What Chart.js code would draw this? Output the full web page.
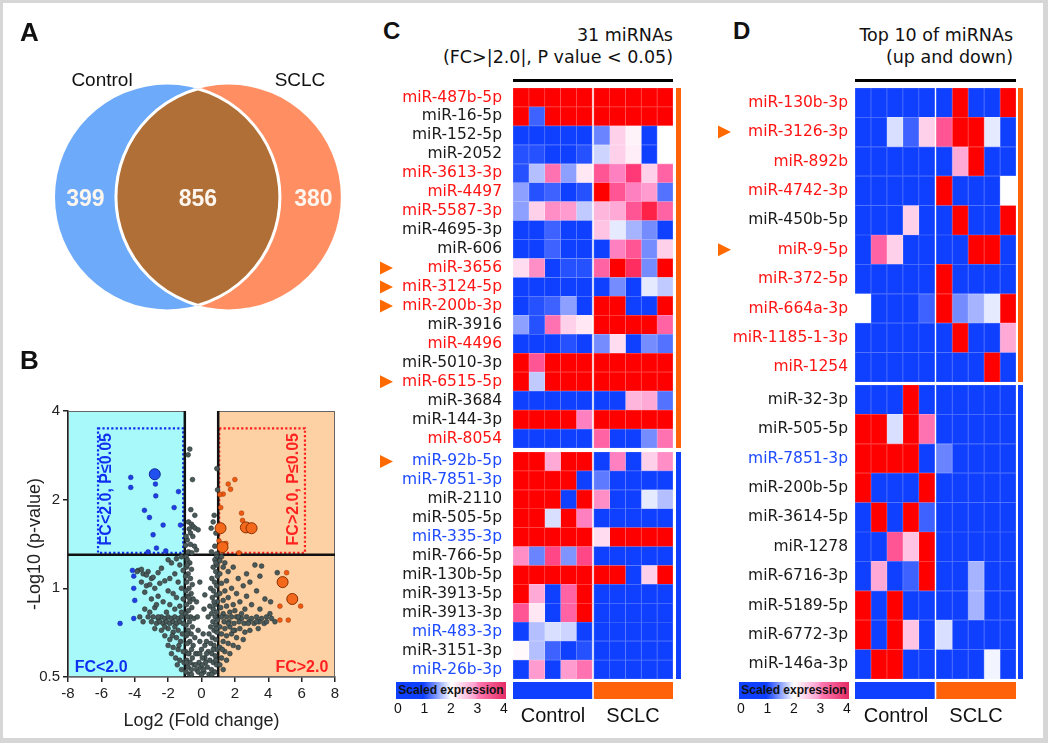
<!DOCTYPE html>
<html>
<head>
<meta charset="utf-8">
<script src="https://cdn.jsdelivr.net/npm/chart.js@4.4.0/dist/chart.umd.min.js"></script>
<style>
  html, body { margin: 0; padding: 0; background: #fff; }
  #page { position: relative; width: 1048px; height: 743px; overflow: hidden; font-family: 'Liberation Sans', Arial, sans-serif; color: #111; }
  #frame { position: absolute; left: 0; top: 0; width: 1048px; height: 743px; box-sizing: border-box; border: 3px solid #d6d6d6; border-right-width: 5px; border-bottom-width: 5px; pointer-events: none; }
  canvas { position: absolute; }
  .t { position: absolute; white-space: nowrap; }
  .letter { font-weight: bold; line-height: 1; }
  .ttl { font-family: 'DejaVu Sans', sans-serif; font-size: 17.5px; line-height: 22px; text-align: right; }
  .bar { position: absolute; height: 3px; background: #000; }
  .legend { position: absolute; height: 17px; width: 110px;
    background: linear-gradient(to right, #1040ff 0%, #1040ff 25%, #ffffff 50%, #ffa0d0 72%, #ff78b0 75%, #e42c64 100%);
    font-weight: bold; font-size: 12px; line-height: 17px; text-align: center; color: #111; }
  .lnum { position: absolute; font-size: 14px; width: 20px; text-align: center; line-height: 14px; }
  .grp { position: absolute; font-size: 20px; line-height: 20px; width: 90px; text-align: center; }
</style>
</head>
<body>
<div id="page">
  <canvas id="venn" width="370" height="370" style="left:0;top:0"></canvas>
  <canvas id="volcano" width="350" height="345" style="left:0;top:395px"></canvas>
  <canvas id="cUp" width="320" height="360" style="left:370px;top:88px"></canvas>
  <canvas id="cDown" width="320" height="249" style="left:370px;top:452px"></canvas>
  <canvas id="dUp" width="340" height="294" style="left:700px;top:88px"></canvas>
  <canvas id="dDown" width="340" height="316" style="left:700px;top:385px"></canvas>

  <div class="t letter" style="left:20px;top:19px;font-size:26px">A</div>
  <div class="t letter" style="left:20px;top:347px;font-size:26px">B</div>
  <div class="t letter" style="left:383px;top:19px;font-size:24px">C</div>
  <div class="t letter" style="left:733px;top:19px;font-size:24px">D</div>

  <div class="t" style="left:42px;top:70px;width:120px;text-align:center;font-size:19px;line-height:19px">Control</div>
  <div class="t" style="left:240px;top:70px;width:120px;text-align:center;font-size:19px;line-height:19px">SCLC</div>

  <div class="t ttl" style="right:375px;top:24px">31 miRNAs<br>(FC&gt;|2.0|, P value &lt; 0.05)</div>
  <div class="bar" style="left:513px;top:79px;width:160px"></div>
  <div class="t ttl" style="right:35px;top:24px">Top 10 of miRNAs<br>(up and down)</div>
  <div class="bar" style="left:855px;top:79px;width:161px"></div>

  <div class="legend" style="left:396px;top:682px">Scaled expression</div>
  <div id="cNums"></div>
  <div class="legend" style="left:739px;top:682px">Scaled expression</div>
  <div id="dNums"></div>

  <div class="grp" style="left:508px;top:705px">Control</div>
  <div class="grp" style="left:588px;top:705px">SCLC</div>
  <div class="grp" style="left:851px;top:705px">Control</div>
  <div class="grp" style="left:931px;top:705px">SCLC</div>

  <div id="frame"></div>
</div>
<script>
// ---- data ----
// panel A
const vennCounts = [399, 856, 380]; // control only, shared, SCLC only
const vennColors = ['#6eaafa', '#ff8f63'];
const vennShared = '#b06f36';

// panel B: [log2 fold change, -log10 p]
const grayPts = [
  [-0.7,2.97],[-0.8,2.84],[-0.54,2.34],[0.92,2.55],[0.96,2.16],[-0.64,1.85],[-0.4,1.77],[-0.78,1.68],[-0.6,1.65],[-0.5,1.62],
  [-0.74,1.59],[-0.38,1.6],[-0.2,1.58],[-0.66,1.54],[-0.52,1.5],[-0.85,1.46],[-0.66,1.41],[-0.42,1.39],[-0.3,1.35],[-0.78,1.33],
  [-0.58,1.32],[0.76,1.77],[0.7,1.68],[0.58,1.6],[0.86,1.54],[0.8,1.39],[0.6,1.33],[0.9,1.31],[-0.92,1.5],[-0.95,1.4],
  [-0.92,1.28],[-0.85,1.25],[-0.7,1.22],[-0.9,1.18],[-0.6,1.16],[-0.8,1.12],[-0.95,1.1],[-0.66,1.08],[-0.88,1.05],[-0.55,1.03],
  [-0.75,1.0],[-0.93,0.98],[-0.62,0.96],[-0.82,0.94],[-0.5,0.92],[-0.7,0.9],[-0.9,0.88],[-0.58,0.86],[-0.78,0.84],[-0.95,0.82],
  [-0.65,0.8],[-0.85,0.8],[-0.45,0.79],[-0.72,0.77],[-0.92,0.75],[-0.55,0.74],[-0.8,0.72],[-0.62,0.7],[-0.9,0.69],[-0.4,0.68],
  [-0.7,0.66],[-0.85,0.65],[-0.5,0.64],[-0.6,0.62],[-0.95,0.61],[-0.75,0.6],[-0.35,0.6],[-0.55,0.58],[-0.88,0.57],[-0.68,0.56],
  [-0.45,0.55],[-0.8,0.54],[-0.6,0.53],[-0.92,0.52],[-0.3,0.53],[-0.72,0.51],
  [0.9,1.28],[0.8,1.25],[0.92,1.2],[0.7,1.18],[0.85,1.14],[0.95,1.1],[0.62,1.08],[0.78,1.05],[0.9,1.02],[0.55,1.0],
  [0.72,0.98],[0.88,0.95],[0.65,0.93],[0.95,0.9],[0.8,0.88],[0.5,0.87],[0.7,0.85],[0.9,0.83],[0.6,0.82],[0.82,0.8],
  [0.4,0.8],[0.95,0.78],[0.68,0.77],[0.85,0.75],[0.55,0.74],[0.75,0.72],[0.92,0.71],[0.45,0.7],[0.65,0.68],[0.85,0.67],
  [0.3,0.66],[0.55,0.65],[0.75,0.64],[0.92,0.62],[0.4,0.61],[0.62,0.6],[0.82,0.59],[0.2,0.58],[0.5,0.57],[0.7,0.56],
  [0.9,0.55],[0.35,0.54],[0.6,0.53],[0.8,0.52],[0.15,0.52],[0.45,0.51],
  [-0.2,0.72],[0.1,0.7],[-0.1,0.66],[0.2,0.64],[0,0.62],[-0.25,0.6],[0.05,0.58],[-0.15,0.56],[0.25,0.56],[-0.05,0.54],
  [0.1,0.53],[-0.2,0.52],[0,0.51],[-0.3,0.9],[0.2,0.95],[-0.1,1.05],[0.15,0.85],[-0.25,0.8],
  [-1.2,1.28],[-1.5,1.26],[-1.8,1.22],[-2.0,1.25],[-1.3,1.2],[-1.1,1.15],[-1.6,1.12],[-2.4,1.17],[-3.8,1.15],[-3.5,1.12],
  [-3.2,1.14],[-3.0,1.08],[-3.6,1.05],[-3.3,1.02],[-2.8,1.0],[-2.5,1.04],[-2.2,1.06],[-1.9,1.08],[-1.4,1.05],[-1.2,1.0],
  [-2.0,0.98],[-1.7,0.96],[-2.6,0.94],[-3.0,0.92],[-1.5,0.93],[-1.1,0.92],[-2.3,0.9],[-1.9,0.88],[-1.3,0.87],[-2.8,0.86],
  [-3.4,0.85],[-1.6,0.85],[-2.1,0.83],[-1.2,0.83],[-3.7,0.8],[-3.2,0.8],[-2.9,0.8],[-2.6,0.79],[-2.4,0.8],[-2.2,0.79],
  [-2.0,0.8],[-1.8,0.79],[-1.6,0.8],[-1.4,0.79],[-1.2,0.8],[-3.5,0.77],[-3.0,0.77],[-2.7,0.76],[-2.5,0.77],[-2.3,0.76],
  [-2.1,0.77],[-1.9,0.76],[-1.7,0.77],[-1.5,0.76],[-1.3,0.77],[-1.1,0.76],[-2.8,0.73],[-2.4,0.72],[-2.0,0.73],[-1.7,0.71],
  [-1.4,0.72],[-1.15,0.7],[-2.2,0.69],[-1.9,0.67],[-1.5,0.68],[-1.25,0.66],[-2.0,0.64],[-1.7,0.63],[-1.4,0.62],[-1.1,0.61],
  [-1.8,0.6],[-1.55,0.58],[-1.3,0.57],[-1.05,0.56],[-1.45,0.55],[-1.2,0.53],[-3.86,1.14],[-3.6,1.16],[-3.3,1.11],[-3.1,1.03],
  [-2.9,1.09],[-2.6,1.13],[-3.4,0.97],[-2.7,0.88],[-3.1,0.83],
  [1.2,1.28],[1.1,1.24],[1.4,1.22],[1.3,1.18],[1.9,1.18],[3.2,1.2],[3.6,1.19],[2.7,1.12],[3.5,1.1],[1.6,1.14],
  [1.1,1.12],[2.2,1.08],[1.5,1.06],[1.2,1.04],[2.9,1.05],[2.5,1.02],[1.8,1.0],[1.4,0.98],[3.3,0.98],[2.1,0.96],
  [1.1,0.96],[2.7,0.94],[1.6,0.93],[3.8,0.92],[1.3,0.91],[2.3,0.9],[1.9,0.88],[3.0,0.88],[1.5,0.87],[1.15,0.86],
  [2.6,0.85],[3.5,0.85],[2.0,0.84],[1.7,0.83],[1.3,0.82],[4.1,0.82],[2.4,0.82],[1.2,0.8],[1.5,0.8],[1.8,0.8],
  [2.1,0.8],[2.4,0.79],[2.7,0.8],[3.0,0.79],[3.3,0.8],[3.6,0.79],[3.9,0.8],[4.2,0.79],[1.35,0.77],[1.65,0.77],
  [1.95,0.76],[2.25,0.77],[2.55,0.76],[2.85,0.77],[3.15,0.76],[3.45,0.77],[3.75,0.76],[4.4,0.77],[1.1,0.74],[1.4,0.73],
  [1.7,0.74],[2.0,0.72],[2.3,0.73],[2.6,0.71],[2.9,0.72],[3.4,0.73],[1.2,0.7],[1.5,0.69],[1.8,0.7],[2.1,0.68],
  [2.5,0.67],[1.3,0.66],[1.6,0.65],[1.9,0.64],[2.2,0.63],[1.1,0.63],[1.4,0.61],[1.7,0.6],[1.2,0.58],[1.5,0.57],
  [1.1,0.55],[1.3,0.53],[4.54,1.13],[4.14,0.9],
  [-0.85,1.2],[-0.75,0.93],[-0.88,0.7],[-0.8,0.6],[-0.9,0.56],[-0.6,0.51],[0.86,1.22],[0.75,0.9],[0.88,0.73],[0.7,0.62],
  [0.85,0.57],[0.62,0.51],[-0.1,0.6],[0.3,0.6],[-0.35,0.55],[0.05,0.55],[-1.6,0.74],[-2.2,0.74],[-2.6,0.8],[1.6,0.76],
  [2.2,0.8],[2.8,0.76],[3.3,0.77],[3.9,0.77],[1.9,0.72],[1.25,0.62],[-1.35,0.64],[-1.75,0.69]
];
const bluePts = [
  [-4.24,2.38],[-4.24,2.2],[-2.76,2.26],[-2.74,2.06],[-1.38,2.13],[-3.42,1.84],[-1.64,1.88],[-3.12,1.74],[-2.3,1.64],[-1.26,1.64],
  [-2.9,1.52],[-2.7,1.37],[-2.14,1.34],[-3.2,1.33],[-4.14,1.15],[-4.06,1.1],[-4.06,1.0],[-4.0,0.91],[-4.06,0.79],[-4.88,0.76]
];
const orangePts = [
  [2.0,2.34],[1.6,2.26],[1.74,2.17],[1.3,2.09],[1.1,2.08],[2.4,1.8],[2.46,1.7],[1.46,1.42],[2.24,1.32],[1.05,1.45],
  [1.15,1.88],[5.1,1.13],[5.94,0.87],[4.7,0.87],[4.7,0.78],[5.2,0.78]
];
const blueBig = [[-2.8,2.44]];
const orangeBig = [[1.14,1.6],[2.66,1.61],[3.0,1.6],[1.26,1.38],[4.86,1.05],[5.44,0.92]];
const volcanoXTicks = [-8, -6, -4, -2, 0, 2, 4, 6, 8];
const volcanoYTicks = [0.5, 1, 2, 4];
const fcCut = 1;    // log2(2)
const pCut = 1.3;   // -log10(0.05)

// panel C/D heatmaps, scaled expression 0..4, 5 control + 5 SCLC columns
const scaleTicks = [0, 1, 2, 3, 4];
const cUpNames = ['miR-487b-5p','miR-16-5p','miR-152-5p','miR-2052','miR-3613-3p','miR-4497','miR-5587-3p','miR-4695-3p','miR-606','miR-3656','miR-3124-5p','miR-200b-3p','miR-3916','miR-4496','miR-5010-3p','miR-6515-5p','miR-3684','miR-144-3p','miR-8054'];
const cUpTone = ['r','k','k','k','r','r','r','k','k','r','r','r','k','r','k','r','k','k','r'];
const cUpValues = [
  [4,4,4,4,4, 4,4,4,4,4],
  [4,1.2,4,4,4, 4,4,4,4,4],
  [0.5,0.5,0.5,0.5,0.5, 1.4,2.4,2.1,0.5,2.0],
  [1.1,1.1,0.5,0.5,1.1, 1.8,2.4,2.15,0.5,2.0],
  [1.1,1.7,3.1,1.55,2.2, 3.3,3.0,3.5,2.4,3.2],
  [1.55,1.1,1.2,0.5,1.1, 4,3.3,3.0,2.8,1.3],
  [1.55,2.4,2.9,2.8,1.75, 2.6,2.7,3.3,3.7,3.2],
  [0.5,0.5,1.2,0.5,0.5, 2.5,1.9,1.65,1.45,0.5],
  [0.5,0.5,1.2,0.5,0.5, 0.5,3.0,3.3,1.45,2.4],
  [2.3,2.9,0.5,1.1,1.1, 3.2,4,3.6,1.45,4],
  [0.5,0.5,0.5,0.5,0.5, 0.5,1.45,0.5,1.9,1.75],
  [0.5,1.1,1.2,1.55,0.5, 4,4,0.5,0.5,4],
  [1.55,1.1,3.1,2.4,2.2, 4,4,4,4,3.2],
  [0.5,0.5,0.5,1.1,0.5, 1.45,2.3,0.5,1.45,1.3],
  [4,3.3,4,4,4, 4,4,4,4,4],
  [4,1.75,4,4,4, 4,4,4,4,4],
  [0.5,0.5,0.5,0.5,0.5, 0.5,0.5,2.6,2.7,1.3],
  [4,4,4,4,3.0, 4,4,4,4,4],
  [0.5,0.5,0.5,0.5,0.5, 3.2,0.5,0.5,1.45,3.1]
];
const cDownNames = ['miR-92b-5p','miR-7851-3p','miR-2110','miR-505-5p','miR-335-3p','miR-766-5p','miR-130b-5p','miR-3913-5p','miR-3913-3p','miR-483-3p','miR-3151-3p','miR-26b-3p'];
const cDownTone = ['b','b','k','k','b','k','k','k','k','b','k','b'];
const cDownValues = [
  [4,4,2.7,4,4, 0.5,3.0,0.5,2.4,2.9],
  [4,4,4,4,0.5, 1.35,0.5,0.5,0.5,0.5],
  [4,4,4,0.5,4, 2.9,0.5,0.5,1.9,1.7],
  [4,4,1.85,4,3.0, 0.5,0.5,0.5,0.5,0.5],
  [4,4,4,4,4, 2.3,4,4,4,4],
  [2.9,1.4,3.4,1.5,3.4, 0.5,0.5,0.5,0.5,0.5],
  [4,4,4,4,4, 4,4,0.5,2.4,4],
  [4,2.7,0.5,3.2,4, 0.5,0.5,0.5,0.5,0.5],
  [3.3,2.2,0.5,3.2,4, 0.5,0.5,0.5,0.5,0.5],
  [0.5,1.7,1.85,1.8,0.5, 0.5,0.5,0.5,0.5,0.5],
  [2.05,1.7,1.2,0.5,1.1, 0.5,0.5,0.5,0.5,0.5],
  [0.5,2.8,0.5,2.8,3.1, 0.5,0.5,0.5,0.5,0.5]
];
const cMarked = ['miR-3656','miR-3124-5p','miR-200b-3p','miR-6515-5p','miR-92b-5p'];

const dUpNames = ['miR-130b-3p','miR-3126-3p','miR-892b','miR-4742-3p','miR-450b-5p','miR-9-5p','miR-372-5p','miR-664a-3p','miR-1185-1-3p','miR-1254'];
const dUpTone = ['r','r','r','r','k','r','r','r','r','r'];
const dUpValues = [
  [0.5,0.5,0.5,0.5,0.5, 0.5,4,0.5,0.5,4],
  [0.5,0.5,1.85,1.2,2.4, 3.3,4,4,1.9,0.5],
  [0.5,0.5,0.5,0.5,0.5, 0.5,2.7,4,0.5,0.5],
  [0.5,0.5,0.5,0.5,0.5, 4,0.5,0.5,0.5,2.0],
  [0.5,0.5,0.5,2.4,0.5, 0.5,4,0.5,0.5,4],
  [0.5,3.2,2.4,0.5,0.5, 0.5,0.5,4,4,0.5],
  [0.5,0.5,0.5,0.5,0.5, 4,0.5,0.5,0.5,0.5],
  [2.0,0.5,0.5,0.5,1.2, 4,1.45,1.65,1.9,4],
  [0.5,0.5,0.5,0.5,0.5, 0.5,4,0.5,0.5,2.7],
  [0.5,0.5,0.5,0.5,0.5, 0.5,0.5,0.5,4,0.5]
];
const dDownNames = ['miR-32-3p','miR-505-5p','miR-7851-3p','miR-200b-5p','miR-3614-5p','miR-1278','miR-6716-3p','miR-5189-5p','miR-6772-3p','miR-146a-3p'];
const dDownTone = ['k','k','b','k','k','k','k','k','k','k'];
const dDownValues = [
  [0.5,0.5,0.5,4,0.5, 0.5,0.5,0.5,0.5,0.5],
  [4,4,1.85,4,3.1, 0.5,0.5,0.5,0.5,0.5],
  [4,4,4,4,0.5, 1.4,0.5,0.5,0.5,0.5],
  [4,0.5,0.5,0.5,4, 0.5,0.5,0.5,0.5,0.5],
  [0.5,4,0.5,4,1.2, 0.5,0.5,0.5,0.5,0.5],
  [0.5,0.5,3.3,2.5,4, 0.5,0.5,0.5,0.5,0.5],
  [0.5,2.7,0.5,1.2,4, 0.5,0.5,1.65,0.5,0.5],
  [4,0.5,4,0.5,0.5, 0.5,0.5,1.65,0.5,0.5],
  [4,0.5,4,2.5,0.5, 1.85,0.5,0.5,0.5,0.5],
  [0.5,4,4,0.5,0.5, 0.5,0.5,0.5,1.95,0.5]
];
const dMarked = ['miR-3126-3p','miR-9-5p'];

// ---- styles / helpers ----
const family = "'Liberation Sans', Arial, sans-serif";
const labelFamily = "'DejaVu Sans', sans-serif";
const toneColor = { r: '#ff1414', k: '#1a1a1a', b: '#1f4bff' };
const groupBlue = '#1040ff', groupOrange = '#ff6208', markColor = '#ff6a00';
const controlN = 5, colGap = 0.1;
const colorStops = [
  [0, [16,64,255]], [1, [16,64,255]], [1.5, [128,148,255]], [2, [255,255,255]],
  [2.5, [255,196,228]], [3, [255,128,192]], [3.5, [255,56,120]], [4, [255,0,0]]
];

function mix(a, b, t) { return a.map((v, i) => Math.round(v + (b[i] - v) * t)); }
function valueColor(v) {
  for (let i = 1; i < colorStops.length; i++) {
    const [v1, c1] = colorStops[i];
    if (v <= v1) {
      const [v0, c0] = colorStops[i - 1];
      return mix(c0, c1, (v - v0) / (v1 - v0));
    }
  }
  return colorStops[colorStops.length - 1][1];
}
const rgb = c => `rgb(${c[0]},${c[1]},${c[2]})`;

// legend numbers under the colour keys
function legendNums(id, left) {
  const box = document.getElementById(id);
  scaleTicks.forEach(v => {
    const d = document.createElement('div');
    d.className = 'lnum';
    d.style.left = (left + v * 26.5 - 8) + 'px';
    d.style.top = '701px';
    d.textContent = v;
    box.appendChild(d);
  });
}
legendNums('cNums', 396);
legendNums('dNums', 739);

// ---- panel A: venn ----
const vennOffset = 0.271;  // circle centres, in radius units

const vennPlugin = {
  id: 'vennShared',
  afterDatasetsDraw(chart) {
    const { ctx, scales: { x } } = chart;
    const a = chart.getDatasetMeta(0).data[0];
    const b = chart.getDatasetMeta(1).data[0];
    const r = Math.abs(x.getPixelForValue(1) - x.getPixelForValue(0));
    ctx.save();
    ctx.beginPath(); ctx.arc(a.x, a.y, r, 0, Math.PI * 2); ctx.clip();
    ctx.beginPath(); ctx.arc(b.x, b.y, r, 0, Math.PI * 2);
    ctx.fillStyle = vennShared; ctx.fill();
    ctx.strokeStyle = '#fff'; ctx.lineWidth = 3; ctx.stroke();
    ctx.restore();
    ctx.save();
    ctx.beginPath(); ctx.arc(b.x, b.y, r, 0, Math.PI * 2); ctx.clip();
    ctx.beginPath(); ctx.arc(a.x, a.y, r, 0, Math.PI * 2);
    ctx.strokeStyle = '#fff'; ctx.lineWidth = 3; ctx.stroke();
    ctx.restore();

    const xs = [(a.x + b.x) / 2 - r, (a.x + b.x) / 2, (a.x + b.x) / 2 + r];
    ctx.save();
    ctx.fillStyle = '#fdf6ee';
    ctx.font = 'bold 23px ' + family;
    ctx.textAlign = 'center'; ctx.textBaseline = 'middle';
    vennCounts.forEach((c, i) => ctx.fillText(String(c), xs[i] + (i === 2 ? 3 : 0), a.y + 3));
    ctx.restore();
  }
};

const venn = new Chart(document.getElementById('venn'), {
  type: 'bubble',
  data: {
    datasets: [
      { data: [{ x: -vennOffset, y: 0 }], backgroundColor: vennColors[0], borderWidth: 0, clip: false },
      { data: [{ x: vennOffset, y: 0 }], backgroundColor: vennColors[1], borderWidth: 0, clip: false }
    ]
  },
  options: {
    responsive: false, animation: false, events: [],
    layout: { padding: 0, autoPadding: false },
    plugins: { legend: { display: false }, tooltip: { enabled: false } },
    scales: {
      x: { type: 'linear', display: false, min: -1.76, max: 1.53 },
      y: { type: 'linear', display: false, min: -1.538, max: 1.751 }
    }
  },
  plugins: [vennPlugin]
});
// circles are one unit in radius: convert through the x scale, then redraw
const unitPx = Math.abs(venn.scales.x.getPixelForValue(1) - venn.scales.x.getPixelForValue(0));
venn.data.datasets.forEach(d => { d.data[0].r = unitPx; });
venn.update();

// ---- panel B: volcano ----
const volcanoDeco = {
  id: 'volcanoDeco',
  beforeDatasetsDraw(chart) {
    const { ctx, chartArea: a, scales: { x, y } } = chart;
    const xl = x.getPixelForValue(-fcCut), xr = x.getPixelForValue(fcCut), yc = y.getPixelForValue(pCut);
    const h = a.bottom - a.top;
    ctx.save();
    ctx.fillStyle = '#a8f9f9'; ctx.fillRect(a.left, a.top, xl - a.left, h);
    ctx.fillStyle = '#fdd1a3'; ctx.fillRect(xr, a.top, a.right - xr, h);
    ctx.strokeStyle = '#666'; ctx.lineWidth = 1;
    ctx.strokeRect(a.left + 0.5, a.top + 0.5, xl - a.left, h - 1);
    ctx.strokeRect(xr, a.top + 0.5, a.right - xr - 0.5, h - 1);

    const boxTop = y.getPixelForValue(3.49), boxBot = y.getPixelForValue(1.32);
    ctx.setLineDash([2.2, 2.2]); ctx.lineWidth = 2.2;
    ctx.strokeStyle = '#1030f0';
    ctx.strokeRect(x.getPixelForValue(-6.2), boxTop, x.getPixelForValue(-1.1) - x.getPixelForValue(-6.2), boxBot - boxTop);
    ctx.strokeStyle = '#ff2020';
    ctx.strokeRect(x.getPixelForValue(1.06), boxTop, x.getPixelForValue(6.2) - x.getPixelForValue(1.06), boxBot - boxTop);
    ctx.setLineDash([]);

    ctx.strokeStyle = '#111'; ctx.lineWidth = 2.5;
    ctx.beginPath();
    ctx.moveTo(xl, a.top); ctx.lineTo(xl, a.bottom);
    ctx.moveTo(xr, a.top); ctx.lineTo(xr, a.bottom);
    ctx.moveTo(a.left, yc); ctx.lineTo(a.right, yc);
    ctx.stroke();

    ctx.font = 'bold 16px ' + family;
    ctx.textBaseline = 'middle'; ctx.textAlign = 'center';
    [['FC<2.0, P\u22640.05', -5.7, '#1030f0'], ['FC>2.0, P\u22640.05', 5.5, '#ff2020']].forEach(([t, vx, c]) => {
      ctx.save();
      ctx.translate(x.getPixelForValue(vx), y.getPixelForValue(2.17));
      ctx.rotate(-Math.PI / 2);
      ctx.fillStyle = c;
      ctx.fillText(t, 0, 0);
      ctx.restore();
    });
    ctx.textAlign = 'left'; ctx.fillStyle = '#1030f0';
    ctx.fillText('FC<2.0', x.getPixelForValue(-7.6), y.getPixelForValue(0.54));
    ctx.textAlign = 'right'; ctx.fillStyle = '#ff2020';
    ctx.fillText('FC>2.0', x.getPixelForValue(7.6), y.getPixelForValue(0.54));
    ctx.restore();
  }
};

const toXY = pts => pts.map(([x, y]) => ({ x, y }));

new Chart(document.getElementById('volcano'), {
  type: 'scatter',
  data: {
    datasets: [
      { data: toXY(grayPts), backgroundColor: '#4a5959', borderColor: '#263030', borderWidth: 0.6, pointRadius: 2.4, order: 3 },
      { data: toXY(bluePts), backgroundColor: '#1e3ee6', borderColor: '#10209a', borderWidth: 0.5, pointRadius: 2.4, order: 2 },
      { data: toXY(orangePts), backgroundColor: '#ee5a12', borderColor: '#9a3000', borderWidth: 0.5, pointRadius: 2.4, order: 2 },
      { data: toXY(blueBig), backgroundColor: '#2050ee', borderColor: '#10289a', borderWidth: 1, pointRadius: 5.5, order: 1 },
      { data: toXY(orangeBig), backgroundColor: '#f4681c', borderColor: '#8a3000', borderWidth: 1, pointRadius: 5.5, order: 1 }
    ]
  },
  options: {
    responsive: false, animation: false, events: [],
    layout: { padding: { top: 16, right: 15, left: 0, bottom: 0 }, autoPadding: false },
    plugins: { legend: { display: false }, tooltip: { enabled: false } },
    scales: {
      x: {
        type: 'linear', min: -8, max: 8,
        afterBuildTicks: s => { s.ticks = volcanoXTicks.map(v => ({ value: v })); },
        ticks: { font: { size: 15, family }, color: '#222', padding: 3, maxRotation: 0 },
        grid: { drawOnChartArea: false, color: '#222', tickLength: 5, lineWidth: 1.5 },
        border: { color: '#222', width: 1.5 },
        title: { display: true, text: 'Log2 (Fold change)', font: { size: 18, family }, color: '#222', padding: { top: 2, bottom: 8 } },
        afterFit: s => { s.height = 63; s.paddingLeft = 0; s.paddingRight = 0; }
      },
      y: {
        type: 'logarithmic', min: 0.5, max: 4,
        afterBuildTicks: s => { s.ticks = volcanoYTicks.map(v => ({ value: v })); },
        ticks: { font: { size: 15, family }, color: '#222', padding: 3, callback: v => String(v) },
        grid: { drawOnChartArea: false, color: '#222', tickLength: 5, lineWidth: 1.5 },
        border: { color: '#222', width: 1.5 },
        title: { display: true, text: '-Log10 (p-value)', font: { size: 18, family }, color: '#222', padding: { top: 24, bottom: 4 } },
        afterFit: s => { s.width = 68; s.paddingTop = 0; s.paddingBottom = 0; }
      }
    }
  },
  plugins: [volcanoDeco]
});

// ---- panels C/D: heatmaps as floating bars ----
function heatDeco(opt) {
  return {
    id: 'heatDeco',
    afterDraw(chart) {
      const { ctx, chartArea: a, scales: { x, y } } = chart;
      ctx.save();
      ctx.fillStyle = opt.side;
      ctx.fillRect(a.right + opt.sideGap, a.top, 5, a.bottom - a.top);
      ctx.fillStyle = markColor;
      chart.data.labels.forEach((name, i) => {
        if (!opt.marked.includes(name)) return;
        const cy = y.getPixelForValue(i);
        ctx.beginPath();
        ctx.moveTo(opt.triX, cy - 6.5);
        ctx.lineTo(opt.triX + 13, cy);
        ctx.lineTo(opt.triX, cy + 6.5);
        ctx.closePath();
        ctx.fill();
      });
      if (opt.groups) {
        const top = a.bottom + 3, h = 17;
        const x0 = x.getPixelForValue(0), x1 = x.getPixelForValue(controlN);
        const x2 = x.getPixelForValue(controlN + colGap), x3 = x.getPixelForValue(2 * controlN + colGap);
        ctx.fillStyle = groupBlue; ctx.fillRect(x0, top, x1 - x0, h);
        ctx.fillStyle = groupOrange; ctx.fillRect(x2, top, x3 - x2, h);
      }
      ctx.restore();
    }
  };
}

function heatmap(id, names, tones, values, opt) {
  const nCol = values[0].length;
  const datasets = [];
  for (let j = 0; j < nCol; j++) {
    const x0 = j + (j >= controlN ? colGap : 0);
    datasets.push({
      data: names.map(() => [x0, x0 + 1]),
      backgroundColor: values.map(r => rgb(valueColor(r[j]))),
      borderColor: values.map(r => rgb(mix(valueColor(r[j]), [255, 255, 255], 0.3))),
      borderWidth: 0.7,
      borderSkipped: false,
      grouped: false,
      categoryPercentage: 1,
      barPercentage: 1
    });
  }
  return new Chart(document.getElementById(id), {
    type: 'bar',
    data: { labels: names, datasets },
    options: {
      indexAxis: 'y',
      responsive: false, animation: false, events: [],
      layout: { padding: { left: 0, top: 0, right: opt.padRight, bottom: opt.padBottom || 0 } },
      plugins: { legend: { display: false }, tooltip: { enabled: false } },
      scales: {
        x: { type: 'linear', display: false, min: 0, max: nCol + colGap },
        y: {
          grid: { display: false, drawTicks: false },
          border: { display: false },
          ticks: {
            autoSkip: false, padding: opt.tickPad,
            font: { family: labelFamily, size: 15.5 },
            color: c => toneColor[tones[c.index]]
          },
          afterFit: s => { s.width = opt.axisWidth; s.paddingTop = 0; s.paddingBottom = 0; }
        }
      }
    },
    plugins: [heatDeco(opt)]
  });
}

heatmap('cUp', cUpNames, cUpTone, cUpValues,
  { axisWidth: 143, padRight: 17, tickPad: 11, side: groupOrange, sideGap: 3, triX: 10, marked: cMarked });
heatmap('cDown', cDownNames, cDownTone, cDownValues,
  { axisWidth: 143, padRight: 17, padBottom: 22, tickPad: 11, side: groupBlue, sideGap: 3, triX: 10, marked: cMarked, groups: true });
heatmap('dUp', dUpNames, dUpTone, dUpValues,
  { axisWidth: 155, padRight: 24, tickPad: 7, side: groupOrange, sideGap: 2, triX: 18, marked: dMarked });
heatmap('dDown', dDownNames, dDownTone, dDownValues,
  { axisWidth: 155, padRight: 24, padBottom: 22, tickPad: 7, side: groupBlue, sideGap: 2, triX: 18, marked: dMarked, groups: true });
</script>
</body>
</html>
